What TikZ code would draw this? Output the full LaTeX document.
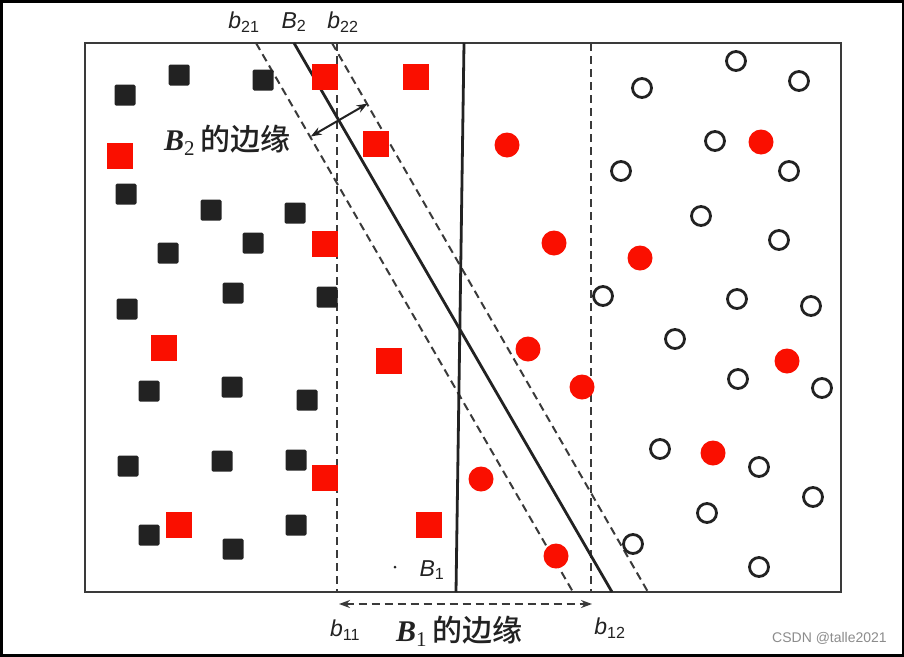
\documentclass[tikz,border=0pt]{standalone}
\usepackage{fontspec}
\setmainfont{Liberation Serif}
\newfontfamily\lsans{Liberation Sans}
\newfontfamily\cjk{Noto Sans CJK SC Medium}
\usetikzlibrary{arrows.meta}
\definecolor{inkc}{HTML}{222222}
\definecolor{boxc}{HTML}{3A3A3A}
\definecolor{redc}{HTML}{FA0F00}
\begin{document}
\begin{tikzpicture}[x=1pt,y=-1pt,
  blk/.style={rectangle,fill=inkc,minimum size=21pt,inner sep=0pt,rounded corners=1.5pt},
  rsq/.style={rectangle,fill=redc,minimum size=26pt,inner sep=0pt},
  rci/.style={circle,fill=redc,minimum size=25pt,inner sep=0pt},
  oci/.style={circle,draw=inkc,line width=2.8pt,minimum size=19pt,inner sep=0pt},
  solidln/.style={draw=inkc,line width=2.8pt},
  dashln/.style={draw=boxc,line width=2pt,dash pattern=on 8pt off 5pt},
  toplbl/.style={font=\lsans\itshape\fontsize{23}{23}\selectfont,text=inkc,inner sep=0pt},
  cnlbl/.style={font=\fontsize{30}{30}\selectfont,text=inkc,inner sep=0pt},
  marr/.style={line width=2pt,draw=inkc,{Stealth[length=11pt,width=8pt]}-{Stealth[length=11pt,width=8pt]}}
]
\useasboundingbox (0,0) rectangle (904,656);
\fill[white] (0,0) rectangle (904,656);
\draw[black,line width=3pt] (1,1) rectangle (903,655);

% main box
\coordinate (TL) at (85,43); \coordinate (BR) at (841,592);
\draw[boxc,line width=2.2pt] (TL) rectangle (BR);

% line end points
\coordinate (b1t) at (464,43);  \coordinate (b1b) at (456,592);
\coordinate (b11t) at (337,43); \coordinate (b11b) at (337,592);
\coordinate (b12t) at (591,43); \coordinate (b12b) at (591,592);
\coordinate (B2t) at (294,43);  \coordinate (B2b) at (612,592);
\coordinate (b21t) at (256,43); \coordinate (b21b) at (573,592);
\coordinate (b22t) at (332,43); \coordinate (b22b) at (648,592);

\draw[dashln] (b11t) -- (b11b);
\draw[dashln] (b12t) -- (b12b);
\draw[dashln] (b21t) -- (b21b);
\draw[dashln] (b22t) -- (b22b);
\draw[solidln] (b1t) -- (b1b);
\draw[solidln] (B2t) -- (B2b);

% black squares
\foreach \n/\x/\y in {1/125/95,2/179/75,3/263/80,4/126/194,5/211/210,6/295/213,7/253/243,8/168/253,9/233/293,10/327/297,11/127/309,12/149/391,13/232/387,14/307/400,15/128/466,16/222/461,17/296/460,18/149/535,19/233/549,20/296/525}
  \node[blk] (k\n) at (\x,\y) {};

% red squares
\foreach \n/\x/\y in {1/325/77,2/416/77,3/376/144,4/120/156,5/325/244,6/164/348,7/389/361,8/325/478,9/179/525,10/429/525}
  \node[rsq] (r\n) at (\x,\y) {};

% red circles
\foreach \n/\x/\y in {1/507/145,2/554/243,3/640/258,4/761/142,5/528/349,6/582/387,7/787/361,8/713/453,9/481/479,10/556/556}
  \node[rci] (c\n) at (\x,\y) {};

% open circles
\foreach \n/\x/\y in {1/736/61,2/799/81,3/642/88,4/715/141,5/789/171,6/621/171,7/701/216,8/779/240,9/603/296,10/737/299,11/811/306,12/675/339,13/738/379,14/822/388,15/660/449,16/759/467,17/813/497,18/707/513,19/633/544,20/759/567}
  \node[oci] (o\n) at (\x,\y) {};

% top labels
\node[toplbl] (lb21) at (244,22) {b\textsubscript{\lsans\upshape 21}};
\node[toplbl] (lB2) at (294,22) {B\textsubscript{\lsans\upshape 2}};
\node[toplbl] (lb22) at (343,22) {b\textsubscript{\lsans\upshape 22}};

% B2 margin
\coordinate (m1) at (310.7,136.5); \coordinate (m2) at (367.7,103.5);
\draw[marr] (m1) -- (m2);
\node[cnlbl,anchor=west] (lm2) at (164,140) {\textit{\textbf{B}}\textsubscript{2}\,{\cjk 的边缘}};

% B1 label and dot
\node[toplbl] (lB1) at (432,570) {B\textsubscript{\lsans\upshape 1}};
\fill[inkc] (395,567) circle (1.5pt);

% B1 margin
\coordinate (n1) at (339,604); \coordinate (n2) at (592,604);
\draw[line width=2pt,draw=boxc,dash pattern=on 8pt off 5pt,{Stealth[length=11pt,width=8pt]}-{Stealth[length=11pt,width=8pt]}] (n1) -- (n2);
\node[toplbl] (lb11) at (345,630) {b\textsubscript{\lsans\upshape 11}};
\node[cnlbl,anchor=west] (lm1) at (396,631) {\textit{\textbf{B}}\textsubscript{1}\,{\cjk 的边缘}};
\node[toplbl] (lb12) at (610,628) {b\textsubscript{\lsans\upshape 12}};

% watermark
\node[font=\lsans\fontsize{14}{14}\selectfont,text=black!45,anchor=east,inner sep=0pt] (wm) at (887,638) {CSDN @talle2021};
\end{tikzpicture}
\end{document}
